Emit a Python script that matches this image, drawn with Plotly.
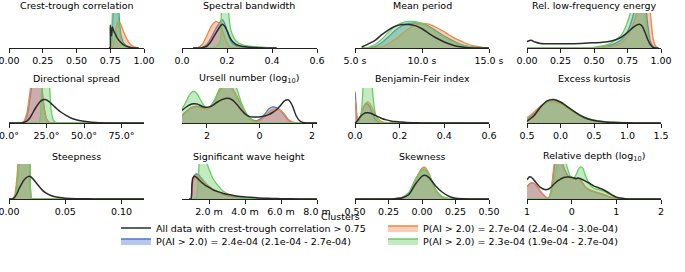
import plotly.graph_objects as go

W, H = 685, 272
FONT = "DejaVu Sans"
BLUE, ORANGE, GREEN, BLACK = "#4878d0", "#ee854a", "#6acc64", "#2b2b2b"

def rgba(hexc, a):
    hexc = hexc.lstrip("#")
    r, g, b = int(hexc[0:2], 16), int(hexc[2:4], 16), int(hexc[4:6], 16)
    return f"rgba({r},{g},{b},{a})"

def fx(p):  # window pixel -> paper x
    return p / W

def fy(p):  # window pixel -> paper y
    return (H - p) / H

# ---------------- data (density heights, in units of panel height) ----------------
titles = ["Crest-trough correlation", "Spectral bandwidth", "Mean period", "Rel. low-frequency energy",
          "Directional spread", "Ursell number (log<sub>10</sub>)", "Benjamin-Feir index", "Excess kurtosis",
          "Steepness", "Significant wave height", "Skewness", "Relative depth (log<sub>10</sub>)"]

legend_title = "Clusters"
legend_names = ["All data with crest-trough correlation > 0.75",
                "P(AI > 2.0) = 2.4e-04 (2.1e-04 - 2.7e-04)",
                "P(AI > 2.0) = 2.7e-04 (2.4e-04 - 3.0e-04)",
                "P(AI > 2.0) = 2.3e-04 (1.9e-04 - 2.7e-04)"]

# 1 Crest-trough correlation
ct_x = [0.74, 0.748, 0.75, 0.755, 0.76, 0.765, 0.77, 0.78, 0.79, 0.80, 0.81, 0.82, 0.83, 0.85, 0.87, 0.90, 0.93, 0.96]
ct_black = [0, 0, 0.65, 0.45, 0.35, 0.6, 0.55, 0.45, 0.38, 0.3, 0.24, 0.19, 0.15, 0.09, 0.05, 0.015, 0.003, 0]
ct_blue = [0, 0, 0, 0.03, 0.15, 0.5, 1.0, 2.0, 2.6, 2.2, 1.3, 0.65, 0.35, 0.14, 0.06, 0.02, 0, 0]
ct_orange = [0, 0, 0, 0, 0, 0.02, 0.05, 0.2, 0.45, 0.68, 0.76, 0.74, 0.66, 0.45, 0.28, 0.1, 0.03, 0]
ct_green = [0, 0, 0, 0.05, 0.3, 0.9, 1.6, 2.6, 2.6, 1.8, 0.9, 0.45, 0.25, 0.1, 0.04, 0.01, 0, 0]

# 2 Spectral bandwidth
sb_x = [0.05, 0.07, 0.09, 0.11, 0.13, 0.15, 0.17, 0.175, 0.18, 0.19, 0.2, 0.205, 0.21, 0.22, 0.24, 0.27, 0.3, 0.34, 0.38, 0.42]
sb_black = [0, 0, 0.01, 0.05, 0.2, 0.42, 0.62, 0.66, 0.68, 0.62, 0.5, 0.42, 0.34, 0.22, 0.1, 0.04, 0.02, 0.01, 0, 0]
sb_blue = [0, 0, 0.02, 0.1, 0.3, 0.55, 0.75, 0.8, 0.81, 0.7, 0.5, 0.4, 0.3, 0.16, 0.05, 0.01, 0, 0, 0, 0]
sb_orange = [0, 0.01, 0.1, 0.35, 0.62, 0.76, 0.68, 0.6, 0.5, 0.3, 0.15, 0.1, 0.06, 0.02, 0, 0, 0, 0, 0, 0]
sb_green = [0, 0, 0, 0, 0, 0.02, 0.2, 1.2, 2.0, 2.2, 1.8, 1.3, 0.8, 0.45, 0.2, 0.09, 0.05, 0.03, 0.01, 0]

# 3 Mean period (s)
mp_x = [5.5, 6, 6.5, 7, 7.5, 8, 8.5, 9, 9.5, 10, 10.5, 11, 11.5, 12, 12.5, 13, 13.5, 14, 14.5, 15]
mp_black = [0.03, 0.12, 0.22, 0.38, 0.52, 0.62, 0.67, 0.67, 0.64, 0.55, 0.42, 0.3, 0.2, 0.12, 0.06, 0.03, 0.01, 0, 0, 0]
mp_blue = [0, 0, 0.04, 0.15, 0.32, 0.5, 0.63, 0.70, 0.72, 0.70, 0.62, 0.5, 0.38, 0.27, 0.17, 0.09, 0.04, 0.02, 0.01, 0]
mp_orange = [0, 0, 0, 0.03, 0.12, 0.25, 0.4, 0.55, 0.65, 0.70, 0.68, 0.6, 0.5, 0.38, 0.27, 0.18, 0.1, 0.05, 0.02, 0.01]
mp_green = [0, 0.02, 0.1, 0.25, 0.45, 0.62, 0.72, 0.76, 0.75, 0.70, 0.6, 0.47, 0.35, 0.24, 0.15, 0.08, 0.04, 0.02, 0.01, 0]

# 4 Relative low-frequency energy
lf_x = [0, 0.03, 0.06, 0.1, 0.2, 0.3, 0.4, 0.5, 0.55, 0.6, 0.65, 0.7, 0.73, 0.76, 0.79, 0.82, 0.84, 0.86, 0.88, 0.9, 0.92, 0.94, 0.96, 0.98]
lf_black = [0.18, 0.22, 0.17, 0.13, 0.12, 0.12, 0.13, 0.15, 0.16, 0.18, 0.22, 0.3, 0.38, 0.48, 0.58, 0.66, 0.68, 0.62, 0.45, 0.25, 0.1, 0.02, 0, 0]
lf_blue = [0, 0, 0, 0, 0, 0, 0, 0.01, 0.03, 0.06, 0.12, 0.22, 0.35, 0.55, 0.9, 1.4, 1.8, 1.9, 1.5, 0.7, 0.2, 0.05, 0, 0]
lf_orange = [0, 0, 0, 0, 0, 0, 0, 0, 0.01, 0.03, 0.07, 0.14, 0.25, 0.4, 0.65, 1.0, 1.4, 1.8, 1.9, 1.6, 1.0, 0.3, 0.05, 0]
lf_green = [0, 0, 0, 0, 0, 0, 0, 0.02, 0.05, 0.1, 0.2, 0.35, 0.55, 0.85, 1.3, 1.8, 2.0, 1.8, 1.0, 0.4, 0.1, 0.02, 0, 0]

# 5 Directional spread (deg)
ds_x = [0, 5, 8, 10, 12, 14, 16, 18, 20, 21, 22, 23, 24, 25, 26, 27, 28, 29, 30, 32, 35, 38, 42, 46, 50, 55, 60, 70, 90]
ds_black = [0, 0, 0, 0.02, 0.06, 0.15, 0.3, 0.45, 0.57, 0.62, 0.65, 0.67, 0.67, 0.66, 0.63, 0.6, 0.56, 0.52, 0.48, 0.4, 0.3, 0.22, 0.13, 0.08, 0.05, 0.025, 0.01, 0, 0]
ds_blue = [0, 0, 0, 0.03, 0.2, 0.7, 1.4, 2.0, 1.9, 1.5, 1.0, 0.6, 0.3, 0.12, 0.05, 0.01, 0, 0, 0, 0, 0, 0, 0, 0, 0, 0, 0, 0, 0]
ds_orange = [0, 0, 0, 0.05, 0.3, 0.9, 1.6, 2.0, 1.8, 1.4, 0.9, 0.5, 0.25, 0.1, 0.04, 0.01, 0, 0, 0, 0, 0, 0, 0, 0, 0, 0, 0, 0, 0]
ds_green = [0, 0, 0, 0, 0, 0, 0, 0, 0, 0.2, 1.2, 2.0, 2.2, 2.0, 1.6, 1.1, 0.4, 0.15, 0.05, 0.01, 0, 0, 0, 0, 0, 0, 0, 0, 0]

# 6 Ursell number (log10)
ur_x = [-2.95, -2.8, -2.65, -2.5, -2.35, -2.2, -2.05, -1.9, -1.75, -1.6, -1.45, -1.3, -1.15, -1.0, -0.85, -0.7, -0.55,
        -0.4, -0.25, -0.1, 0.05, 0.2, 0.35, 0.5, 0.65, 0.8, 0.95, 1.1, 1.25, 1.4, 1.55, 1.7, 1.9, 2.19]
ur_black = [0.36, 0.45, 0.52, 0.55, 0.54, 0.48, 0.45, 0.46, 0.52, 0.6, 0.66, 0.7, 0.7, 0.64, 0.52, 0.38, 0.26,
            0.19, 0.17, 0.17, 0.18, 0.2, 0.24, 0.3, 0.38, 0.5, 0.63, 0.66, 0.5, 0.2, 0.05, 0.01, 0, 0]
ur_blue = [0.22, 0.32, 0.42, 0.47, 0.48, 0.44, 0.42, 0.46, 0.6, 0.82, 1.0, 1.1, 1.1, 0.95, 0.75, 0.52, 0.32,
           0.17, 0.08, 0.07, 0.12, 0.25, 0.4, 0.46, 0.44, 0.36, 0.22, 0.08, 0.02, 0, 0, 0, 0, 0]
ur_orange = [0.2, 0.3, 0.4, 0.45, 0.46, 0.42, 0.4, 0.44, 0.58, 0.8, 1.0, 1.1, 1.1, 0.95, 0.72, 0.5, 0.3,
             0.16, 0.07, 0.05, 0.08, 0.18, 0.3, 0.38, 0.4, 0.36, 0.25, 0.1, 0.03, 0, 0, 0, 0, 0]
ur_green = [0.4, 0.6, 0.82, 0.91, 0.8, 0.6, 0.45, 0.46, 0.6, 0.85, 1.1, 1.3, 1.35, 1.2, 0.95, 0.6, 0.35,
            0.15, 0.04, 0.01, 0, 0, 0, 0, 0, 0, 0, 0, 0, 0, 0, 0, 0, 0]

# 7 Benjamin-Feir index
bf_x = [0, 0.005, 0.01, 0.015, 0.02, 0.03, 0.04, 0.05, 0.06, 0.07, 0.08, 0.09, 0.1, 0.11, 0.12, 0.14, 0.16, 0.18, 0.2, 0.23, 0.26, 0.3, 0.4, 0.6]
bf_black = [0, 0.02, 0.06, 0.1, 0.15, 0.22, 0.27, 0.29, 0.29, 0.28, 0.25, 0.22, 0.19, 0.16, 0.13, 0.09, 0.06, 0.04, 0.03, 0.015, 0.008, 0.003, 0, 0]
bf_blue = [0.9, 0.5, 0.1, 0.05, 0.1, 0.3, 0.48, 0.55, 0.52, 0.4, 0.25, 0.12, 0.05, 0.02, 0, 0, 0, 0, 0, 0, 0, 0, 0, 0]
bf_orange = [0.7, 0.4, 0.12, 0.08, 0.12, 0.3, 0.48, 0.58, 0.6, 0.52, 0.38, 0.25, 0.15, 0.08, 0.04, 0.01, 0, 0, 0, 0, 0, 0, 0, 0]
bf_green = [0, 0, 0, 0, 0.05, 0.4, 1.5, 2.0, 2.0, 1.6, 0.8, 0.3, 0.1, 0.03, 0.01, 0, 0, 0, 0, 0, 0, 0, 0, 0]

# 8 Excess kurtosis
ek_x = [-0.5, -0.4, -0.3, -0.2, -0.1, 0, 0.1, 0.2, 0.3, 0.4, 0.5, 0.6, 0.7, 0.8, 1.0, 1.2, 1.5]
ek_black = [0.05, 0.2, 0.45, 0.63, 0.67, 0.6, 0.47, 0.33, 0.21, 0.12, 0.07, 0.04, 0.025, 0.015, 0.005, 0, 0]
ek_blue = [0.1, 0.25, 0.47, 0.6, 0.63, 0.57, 0.45, 0.32, 0.2, 0.12, 0.07, 0.04, 0.025, 0.015, 0.005, 0, 0]
ek_orange = [0.15, 0.3, 0.48, 0.58, 0.6, 0.55, 0.44, 0.32, 0.21, 0.13, 0.08, 0.05, 0.03, 0.02, 0.008, 0, 0]
ek_green = [0.06, 0.22, 0.45, 0.62, 0.66, 0.6, 0.48, 0.34, 0.22, 0.13, 0.08, 0.05, 0.03, 0.02, 0.01, 0, 0]

# 9 Steepness
st_x = [0, 0.003, 0.005, 0.007, 0.009, 0.011, 0.013, 0.015, 0.017, 0.018, 0.019, 0.02, 0.022, 0.025, 0.03, 0.035, 0.04, 0.045, 0.05, 0.06, 0.07, 0.08, 0.12]
st_black = [0, 0, 0.05, 0.15, 0.3, 0.42, 0.53, 0.6, 0.64, 0.65, 0.64, 0.62, 0.55, 0.43, 0.24, 0.13, 0.07, 0.04, 0.025, 0.01, 0.004, 0.002, 0]
st_blue = [0, 0, 0.05, 0.4, 1.2, 1.9, 2.2, 2.2, 2.0, 1.8, 0.3, 0, 0, 0, 0, 0, 0, 0, 0, 0, 0, 0, 0]
st_orange = [0, 0, 0.1, 0.6, 1.5, 2.0, 2.2, 2.2, 2.0, 1.8, 0.3, 0, 0, 0, 0, 0, 0, 0, 0, 0, 0, 0, 0]
st_green = [0, 0, 0.02, 0.3, 1.1, 1.8, 2.1, 2.2, 2.1, 2.0, 0.5, 0, 0, 0, 0, 0, 0, 0, 0, 0, 0, 0, 0]

# 10 Significant wave height (m)
hs_x = [0.9, 1.0, 1.05, 1.1, 1.2, 1.3, 1.4, 1.5, 1.6, 1.7, 1.8, 1.9, 2.0, 2.2, 2.5, 2.8, 3.2, 3.6, 4.0, 4.5, 5, 5.5, 6, 7, 8]
hs_black = [0, 0, 0.35, 0.6, 0.65, 0.62, 0.57, 0.52, 0.47, 0.43, 0.39, 0.36, 0.33, 0.27, 0.21, 0.16, 0.12, 0.08, 0.06, 0.04, 0.025, 0.015, 0.01, 0, 0]
hs_blue = [0, 0, 0.34, 0.55, 0.68, 0.72, 0.7, 0.64, 0.58, 0.52, 0.46, 0.41, 0.36, 0.28, 0.2, 0.13, 0.07, 0.04, 0.02, 0.01, 0, 0, 0, 0, 0]
hs_orange = [0, 0, 0.3, 0.5, 0.62, 0.66, 0.65, 0.6, 0.55, 0.5, 0.45, 0.4, 0.36, 0.28, 0.2, 0.14, 0.08, 0.04, 0.02, 0.01, 0, 0, 0, 0, 0]
hs_green = [0, 0, 0, 0, 0, 0.05, 0.6, 1.2, 1.3, 1.25, 1.15, 1.0, 0.85, 0.6, 0.38, 0.22, 0.1, 0.05, 0.02, 0.01, 0, 0, 0, 0, 0]

# 11 Skewness
sk_x = [-0.5, -0.3, -0.2, -0.15, -0.1, -0.05, 0, 0.02, 0.05, 0.1, 0.15, 0.2, 0.25, 0.3, 0.5]
sk_black = [0, 0, 0.01, 0.03, 0.12, 0.42, 0.65, 0.68, 0.62, 0.38, 0.2, 0.08, 0.02, 0.005, 0]
sk_blue = [0, 0, 0.01, 0.04, 0.17, 0.55, 0.83, 0.85, 0.72, 0.27, 0.06, 0.01, 0, 0, 0]
sk_orange = [0, 0, 0.01, 0.03, 0.15, 0.55, 0.88, 0.91, 0.75, 0.25, 0.04, 0.005, 0, 0, 0]
sk_green = [0, 0, 0.01, 0.04, 0.17, 0.55, 0.83, 0.85, 0.72, 0.28, 0.07, 0.01, 0, 0, 0]

# 12 Relative depth (log10)
rd_x = [-1, -0.95, -0.9, -0.85, -0.8, -0.7, -0.6, -0.55, -0.5, -0.45, -0.4, -0.35, -0.3, -0.25, -0.2, -0.15, -0.1, -0.05,
        0, 0.05, 0.1, 0.15, 0.2, 0.25, 0.3, 0.4, 0.5, 0.6, 0.7, 0.8, 0.9, 1.0, 1.2, 1.5, 2.0]
rd_black = [0.55, 0.63, 0.62, 0.55, 0.47, 0.33, 0.27, 0.27, 0.3, 0.35, 0.42, 0.48, 0.53, 0.57, 0.6, 0.62, 0.63, 0.63,
            0.62, 0.6, 0.58, 0.6, 0.58, 0.55, 0.52, 0.45, 0.37, 0.32, 0.27, 0.2, 0.12, 0.05, 0.01, 0, 0]
rd_blue = [0.35, 0.42, 0.46, 0.45, 0.4, 0.22, 0.08, 0.03, 0.05, 0.3, 0.8, 1.2, 1.3, 1.2, 1.0, 0.82, 0.7, 0.62,
           0.6, 0.6, 0.6, 0.6, 0.55, 0.45, 0.35, 0.25, 0.2, 0.17, 0.13, 0.08, 0.03, 0.01, 0, 0, 0]
rd_orange = [0.35, 0.42, 0.46, 0.45, 0.4, 0.22, 0.08, 0.03, 0.06, 0.35, 0.9, 1.3, 1.3, 1.15, 0.95, 0.78, 0.66, 0.6,
             0.58, 0.58, 0.58, 0.57, 0.52, 0.43, 0.35, 0.27, 0.22, 0.18, 0.14, 0.09, 0.04, 0.01, 0, 0, 0]
rd_green = [0, 0, 0, 0, 0, 0, 0, 0.01, 0.05, 0.2, 0.5, 0.85, 1.15, 1.3, 1.3, 1.15, 0.9, 0.7,
            0.6, 0.6, 0.7, 0.85, 0.92, 0.88, 0.7, 0.42, 0.3, 0.27, 0.23, 0.17, 0.1, 0.04, 0.01, 0.005, 0]

panels = [
    (ct_x, ct_black, ct_blue, ct_orange, ct_green),
    (sb_x, sb_black, sb_blue, sb_orange, sb_green),
    (mp_x, mp_black, mp_blue, mp_orange, mp_green),
    (lf_x, lf_black, lf_blue, lf_orange, lf_green),
    (ds_x, ds_black, ds_blue, ds_orange, ds_green),
    (ur_x, ur_black, ur_blue, ur_orange, ur_green),
    (bf_x, bf_black, bf_blue, bf_orange, bf_green),
    (ek_x, ek_black, ek_blue, ek_orange, ek_green),
    (st_x, st_black, st_blue, st_orange, st_green),
    (hs_x, hs_black, hs_blue, hs_orange, hs_green),
    (sk_x, sk_black, sk_blue, sk_orange, sk_green),
    (rd_x, rd_black, rd_blue, rd_orange, rd_green),
]

x_ranges = [[0, 1], [0, 0.6], [5, 15], [0, 1],
            [0, 90], [-2.95, 2.19], [0, 0.6], [-0.5, 1.5],
            [0, 0.12], [0.5, 8], [-0.5, 0.5], [-1, 2]]
tick_vals = [[0, 0.25, 0.5, 0.75, 1], [0, 0.2, 0.4, 0.6], [5, 10, 15], [0, 0.25, 0.5, 0.75, 1],
             [0, 25, 50, 75], [-2, 0, 2], [0, 0.2, 0.4, 0.6], [-0.5, 0, 0.5, 1, 1.5],
             [0, 0.05, 0.1], [2, 4, 6, 8], [-0.5, -0.25, 0, 0.25, 0.5], [-1, 0, 1, 2]]
tick_text = [["0.00", "0.25", "0.50", "0.75", "1.00"], ["0.0", "0.2", "0.4", "0.6"], ["5.0 s", "10.0 s", "15.0 s"],
             ["0.00", "0.25", "0.50", "0.75", "1.00"],
             ["0.0°", "25.0°", "50.0°", "75.0°"], ["2", "0", "2"], ["0.0", "0.2", "0.4", "0.6"],
             ["0.5", "0.0", "0.5", "1.0", "1.5"],
             ["0.00", "0.05", "0.10"], ["2.0 m", "4.0 m", "6.0 m", "8.0 m"], ["0.50", "0.25", "0.00", "0.25", "0.50"],
             ["1", "0", "1", "2"]]

# ---------------- layout geometry (window pixels) ----------------
col_px = [(9, 144), (182, 317), (355, 489), (527, 661)]
row_px = [(13, 48), (88, 123), (164, 199)]
title_px = [5, 79, 156]
# legend entries: (legend id, left px of entry, centre y px)
leg_pos = [("legend", 116, 228), ("legend2", 116, 241), ("legend3", 383, 228), ("legend4", 383, 241)]

fig = go.Figure()
layout = dict(width=W, height=H, margin=dict(l=0, r=0, t=0, b=0, pad=0, autoexpand=False),
              paper_bgcolor="white", plot_bgcolor="rgba(0,0,0,0)",
              font=dict(family=FONT, size=9, color="black"), showlegend=True)
annotations = []

series = [(BLUE, 1), (ORANGE, 2), (GREEN, 3)]
for i, (px, yb, yblue, yor, ygr) in enumerate(panels):
    r, c = divmod(i, 4)
    ax = "" if i == 0 else str(i + 1)
    xa, ya = "x" + ax, "y" + ax
    for color, idx in series:
        yv = [yblue, yor, ygr][idx - 1]
        fig.add_trace(go.Scatter(x=px, y=yv, xaxis=xa, yaxis=ya, mode="lines",
                                 line=dict(color=color, width=1.3, shape="spline", smoothing=0.7),
                                 fill="tozeroy", fillcolor=rgba(color, 0.4),
                                 name=legend_names[idx], legend=leg_pos[idx][0], showlegend=(i == 0),
                                 hoverinfo="skip"))
    fig.add_trace(go.Scatter(x=px, y=yb, xaxis=xa, yaxis=ya, mode="lines",
                             line=dict(color=BLACK, width=1.5, shape="spline", smoothing=0.7),
                             name=legend_names[0], legend="legend", showlegend=(i == 0), hoverinfo="skip"))
    x0, x1 = col_px[c]
    y0, y1 = row_px[r]
    layout["xaxis" + ax] = dict(domain=[fx(x0), fx(x1)], anchor=ya, range=x_ranges[i],
                                showline=True, linecolor="#222", linewidth=1, ticks="outside",
                                ticklen=3.5, tickwidth=1, tickcolor="#222", tickvals=tick_vals[i],
                                ticktext=tick_text[i], showgrid=False, zeroline=False,
                                ticklabeloverflow="allow",
                                tickfont=dict(size=9.5, family=FONT, color="black"), fixedrange=True)
    layout["yaxis" + ax] = dict(domain=[fy(y1), fy(y0)], anchor=xa, range=[0, 1],
                                visible=False, fixedrange=True)
    annotations.append(dict(text=titles[i], xref="paper", yref="paper", x=fx((x0 + x1) / 2),
                            y=fy(title_px[r]), xanchor="center", yanchor="middle", showarrow=False,
                            font=dict(size=9.5, family=FONT, color="black")))

annotations.append(dict(text=legend_title, xref="paper", yref="paper", x=fx(340), y=fy(216),
                        xanchor="center", yanchor="middle", showarrow=False,
                        font=dict(size=9.5, family=FONT, color="black")))
layout["annotations"] = annotations
for lid, lx, ly in leg_pos:
    layout[lid] = dict(orientation="v", x=fx(lx), xanchor="left", y=fy(ly), yanchor="middle",
                       itemwidth=30, font=dict(size=9.5, family=FONT, color="black"),
                       bgcolor="rgba(0,0,0,0)", borderwidth=0, tracegroupgap=0)
fig.update_layout(**layout)
fig.write_html("out.html", config={"displayModeBar": False, "staticPlot": True},
               post_script="document.body.style.margin='0';document.body.style.overflow='hidden';")
